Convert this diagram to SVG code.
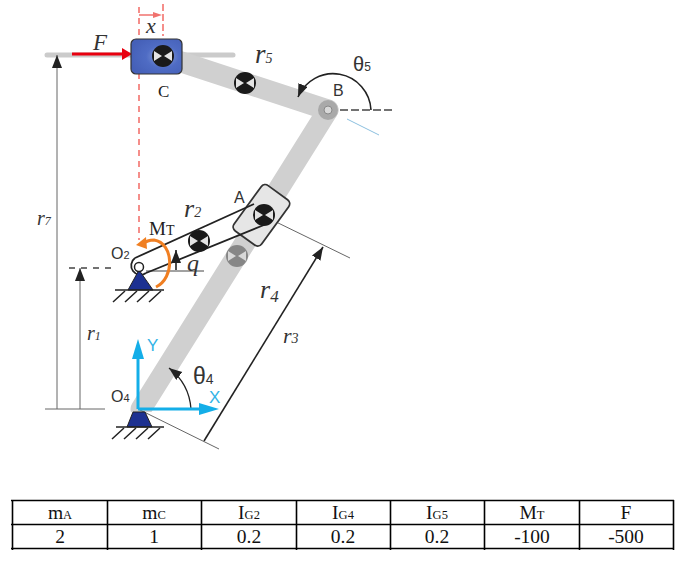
<svg xmlns="http://www.w3.org/2000/svg" width="680" height="563" viewBox="0 0 680 563">
<defs>
<style>
.sans{font-family:"Liberation Sans",Arial,sans-serif;fill:#333}
.serif{font-family:"Liberation Serif","Times New Roman",serif;fill:#222}
.it{font-family:"Liberation Serif","Times New Roman",serif;font-style:italic;fill:#333}
.cell{font-family:"Liberation Serif","Times New Roman",serif;font-size:19.500px;fill:#111;text-anchor:middle}
.cell tspan{font-size:12.500px}
.thin{stroke:#666;stroke-width:1;fill:none}
.blk{stroke:#222;stroke-width:1.600;fill:none}
.red{stroke:#f58e8a;stroke-width:2;fill:none;stroke-dasharray:6 5}
.blue{stroke:#14aee8;stroke-width:3;fill:none}
.grid{stroke:#000;stroke-width:1.600;fill:none}
.cyan{font-family:"Liberation Sans",Arial,sans-serif;font-size:17px;fill:#33b3e6}
</style>
<marker id="ah" markerWidth="14" markerHeight="12" refX="13" refY="5" orient="auto" markerUnits="userSpaceOnUse"><path d="M0 0L13 5L0 10Z" fill="#222"/></marker>
<radialGradient id="sl" cx="0.62" cy="0.5" r="0.65"><stop offset="0" stop-color="#8ea3dc"/><stop offset="0.5" stop-color="#4f6cc4"/><stop offset="1" stop-color="#4560b8"/></radialGradient>
<clipPath id="cutO4"><rect x="0" y="0" width="680" height="412"/></clipPath>
<g id="cross"><circle r="11" fill="#1a1a1a"/><path d="M-9 -5L-1 0L-9 5ZM9 -5L1 0L9 5Z" fill="#e4e4e4"/></g>
<g id="ground"><path d="M0 0L-12 11M12 0L0 11M24 0L12 11M36 0L24 11" stroke="#222" stroke-width="1.500" fill="none"/></g>
</defs>

<g id="rail"><path d="M47 55H233" stroke="#cbcbcb" stroke-width="5" stroke-linecap="round"/></g>
<g id="link-r4"><path d="M141 409L328 110" stroke="#d0d0d0" stroke-width="21" stroke-linecap="round" clip-path="url(#cutO4)"/></g>
<g id="link-r5"><path d="M163 56L328 110" stroke="#d0d0d0" stroke-width="21" stroke-linecap="round"/></g>

<g id="connectors">
<path class="red" d="M139 7V240"/>
<path d="M163 4V36" stroke="#f58e8a" stroke-width="2" stroke-dasharray="7 3" fill="none"/>
<path d="M139 15H156" stroke="#f0726e" stroke-width="1.500"/><path d="M162 15L153 12V18Z" fill="#f0726e"/>
<path d="M72 54H124" stroke="#e8000f" stroke-width="3"/><path d="M132 54L122 48V60Z" fill="#e8000f"/>
<path class="thin" d="M57 409V55" marker-end="url(#ah)"/>
<path class="thin" d="M80 409V268" marker-end="url(#ah)"/>
<path d="M69 268H112" stroke="#444" stroke-width="1.300" stroke-dasharray="6 6" fill="none"/>
<path class="thin" d="M45 409H105"/>
<path d="M329 110H392" stroke="#444" stroke-width="1.300" stroke-dasharray="8 3" fill="none"/>
<path d="M347 119L379 135" stroke="#8cc0df" stroke-width="1" fill="none"/>
<path class="blk" d="M371 110A38 38 0 0 0 298 97" marker-end="url(#ah)"/>
<path class="thin" d="M270 219L350 258"/>
<path class="blk" d="M204 441L323 247" marker-end="url(#ah)"/>
<path class="thin" d="M138 409L219 449"/>
<path d="M191 409A57 57 0 0 0 169 368" stroke="#222" stroke-width="1.300" fill="none" marker-end="url(#ah)"/>
<path d="M146 271H204" stroke="#444" stroke-width="1" fill="none"/>
<path class="blk" d="M176 270V250" marker-end="url(#ah)"/>
<path class="blue" d="M138 409H208"/><path d="M219 409L199 403V415Z" fill="#14aee8"/>
<path class="blue" d="M138 409V350"/><path d="M138 339L132 359H144Z" fill="#14aee8"/>
</g>

<g id="node-b"><circle cx="328" cy="110" r="10" fill="#a9a9a9"/><circle cx="328" cy="110" r="4" fill="#d8d8d8" stroke="#888"/></g>
<g id="node-g4"><use href="#cross" x="237" y="256" opacity="0.4"/></g>
<g id="node-a"><rect x="-17" y="-27" width="34" height="56" rx="5" transform="translate(262 214.500) rotate(36)" fill="#e6e6e6" stroke="#333" stroke-width="1.800"/></g>
<g id="link-r2"><path d="M135 258L254 204M146 273L264 225" stroke="#222" stroke-width="1.800" fill="none"/>
<path d="M135 258A9 9 0 0 0 146 273" stroke="#222" stroke-width="1.800" fill="none"/></g>
<g id="node-a-pin"><use href="#cross" x="264" y="215"/></g>
<g id="node-r2"><use href="#cross" x="199" y="241"/></g>
<g id="node-r5"><use href="#cross" x="245" y="83"/></g>
<g id="node-c"><rect x="131" y="39" width="51" height="35" rx="5" fill="url(#sl)" stroke="#333" stroke-width="1.200"/><use href="#cross" x="163" y="56"/></g>
<g id="node-o2"><path d="M139 270L128 290H153Z" fill="#1d3191" stroke="#222"/><circle cx="139" cy="267" r="4.500" fill="#fff" stroke="#222" stroke-width="1.500"/>
<path d="M115 290H164" stroke="#222" stroke-width="1.500"/><use href="#ground" x="125" y="291"/></g>
<g id="node-o4"><path d="M133 412H145L152 427H127Z" fill="#1d3191" stroke="#222"/>
<path d="M116 427H164" stroke="#222" stroke-width="1.500"/><use href="#ground" x="124" y="428"/></g>
<g id="moment"><path d="M156 287C175 278 174 243 154 240C150 240 146 241 143 244" stroke="#f07f22" stroke-width="3" fill="none"/>
<path d="M136 245L146 237L147 249Z" fill="#f07f22"/></g>

<g id="labels">
<text class="it" x="146" y="33" font-size="22">x</text>
<text class="it" x="93" y="50" font-size="23">F</text>
<text class="serif" x="158" y="97" font-size="17">C</text>
<text class="it" x="255" y="63" font-size="27">r<tspan font-size="14">5</tspan></text>
<text class="sans" x="353" y="71" font-size="20">θ<tspan font-size="12">5</tspan></text>
<text class="sans" x="333" y="96" font-size="16">B</text>
<text class="it" x="37" y="225" font-size="20">r<tspan font-size="12">7</tspan></text>
<text class="it" x="184" y="217" font-size="26">r<tspan font-size="14">2</tspan></text>
<text class="sans" x="234" y="203" font-size="16">A</text>
<text class="serif" x="149" y="235" font-size="19">M<tspan font-size="14">T</tspan></text>
<text class="sans" x="111" y="259" font-size="16">O<tspan font-size="11">2</tspan></text>
<text class="it" x="187" y="271" font-size="24">q</text>
<text class="it" x="260" y="298" font-size="26">r<tspan font-size="17" dy="4">4</tspan></text>
<text class="it" x="283" y="343" font-size="22">r<tspan font-size="14">3</tspan></text>
<text class="it" x="87" y="340" font-size="20">r<tspan font-size="12">1</tspan></text>
<text class="cyan" x="147" y="351">Y</text>
<text class="sans" x="193" y="384" font-size="23">θ<tspan font-size="14">4</tspan></text>
<text class="sans" x="111" y="402" font-size="16">O<tspan font-size="11">4</tspan></text>
<text class="cyan" x="209" y="403">X</text>
</g>

<g id="table">
<path class="grid" d="M11 500.500H674M11 524.500H674M11 548.500H674M12.500 500V550M107.500 500V550M201.500 500V550M296.500 500V550M390.500 500V550M484.500 500V550M579.500 500V550M673.500 500V550"/>
<text class="cell" x="60" y="519">m<tspan>A</tspan></text>
<text class="cell" x="154" y="519">m<tspan>C</tspan></text>
<text class="cell" x="249" y="519">I<tspan>G2</tspan></text>
<text class="cell" x="343" y="519">I<tspan>G4</tspan></text>
<text class="cell" x="437" y="519">I<tspan>G5</tspan></text>
<text class="cell" x="532" y="519">M<tspan>T</tspan></text>
<text class="cell" x="626" y="519">F</text>
<text class="cell" x="60" y="543">2</text>
<text class="cell" x="154" y="543">1</text>
<text class="cell" x="249" y="543">0.2</text>
<text class="cell" x="343" y="543">0.2</text>
<text class="cell" x="437" y="543">0.2</text>
<text class="cell" x="532" y="543">-100</text>
<text class="cell" x="626" y="543">-500</text>
</g>
</svg>
